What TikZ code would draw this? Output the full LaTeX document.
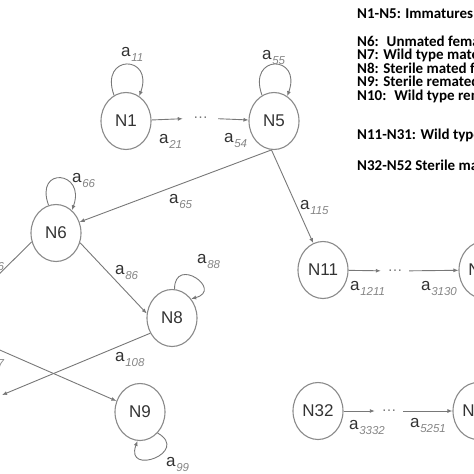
\documentclass[tikz,border=0pt]{standalone}
\usepackage{fontspec}
\setmainfont{Liberation Sans}
\newfontfamily\legendfont{Carlito}
\usetikzlibrary{shapes.geometric,arrows.meta}
\definecolor{linegray}{HTML}{787878}
\definecolor{circgray}{HTML}{8A8A8A}
\definecolor{nodetext}{HTML}{333333}
\definecolor{subgray}{HTML}{858585}
\newcommand{\alab}[1]{a\kern0.6pt\raisebox{-5pt}{\fontsize{11.5}{12}\selectfont\itshape\color{subgray}#1}}
\tikzset{
  state/.style={ellipse, draw=circgray, line width=1.1pt, minimum width=50pt, minimum height=57pt, inner sep=1pt, font=\fontsize{17}{20}\selectfont, text=nodetext},
  dots/.style={inner sep=0pt, text=linegray, font=\fontsize{15}{18}\selectfont},
  edge/.style={draw=linegray, line width=0.9pt, -{Latex[length=5pt,width=4pt]}},
  lbl/.style={anchor=base west, inner sep=0pt, text=nodetext, font=\fontsize{17}{20}\selectfont},
  legend/.style={anchor=base west, inner sep=0pt, font=\legendfont\bfseries\fontsize{15}{16}\selectfont}
}
\begin{document}
\begin{tikzpicture}[x=1pt,y=1pt]
	\useasboundingbox (0,0) rectangle (474,-474);
	\clip (0,0) rectangle (474,-474);
	% states
	\node[state] (N1) at (126,-121) {N1};
	\node[state] (N5) at (274,-121) {N5};
	\node[state] (N6) at (56,-233) {N6};
	\node[state] (N8) at (172,-318) {N8};
	\node[state] (N9) at (140,-412) {N9};
	\node[state] (N11) at (323,-270) {N11};
	\node[state] (N31) at (484,-270) {N31};
	\node[state] (N32) at (318,-411) {N32};
	\node[state] (N52) at (478,-411) {N52};
	% dots in the chains
	\node[dots, minimum width=35pt] (d1) at (200.5,-118) {\dots};
	\node[dots, minimum width=28pt] (d2) at (395,-271) {\dots};
	\node[dots, minimum width=28pt] (d3) at (389,-411) {\dots};
	% free ends off the picture
	\coordinate (n7a) at (-30,-303);
	\coordinate (n7b) at (-30,-337);
	\coordinate (n10) at (2,-395);
	% transitions
	\draw[edge] (N1) -- (d1);
	\draw[edge] (d1) -- (N5);
	\draw[edge] (N11) -- (d2);
	\draw[edge] (d2) -- (N31);
	\draw[edge] (N32) -- (d3);
	\draw[edge] (d3) -- (N52);
	\draw[edge] (N5.265) -- (N6.25);
	\draw[edge] (N5.265) -- (N11.110);
	\draw[edge] (N6.200) -- (n7a);
	\draw[edge] (N6.-22) -- (N8.170);
	\draw[edge] (N8.215) -- (n10);
	\draw[edge] (n7b) -- (N9.155);
	% loops
	\draw[edge] (N1.115) to[out=110, in=70, looseness=4.5] (N1.62);
	\draw[edge] (N5.115) to[out=110, in=70, looseness=4.5] (N5.62);
	\draw[edge] (N6.105) to[out=110, in=70, looseness=4.5] (N6.55);
	\draw[edge] (N8.85) to[out=90, in=15, looseness=4.5] (N8.45);
	\draw[edge] (N9.-50) to[out=-30, in=-110, looseness=4.5] (N9.-95);
	% labels
	\node[lbl] (l11) at (121,-56) {\alab{11}};
	\node[lbl] (l55) at (262,-59) {\alab{55}};
	\node[lbl] (l21) at (159,-143) {\alab{21}};
	\node[lbl] (l54) at (224,-142) {\alab{54}};
	\node[lbl] (l65) at (169,-203) {\alab{65}};
	\node[lbl] (l66) at (72,-182) {\alab{66}};
	\node[lbl] (l115) at (300,-209) {\alab{115}};
	\node[lbl] (l76) at (-19,-265) {\alab{76}};
	\node[lbl] (l86) at (115,-274) {\alab{86}};
	\node[lbl] (l88) at (197,-263) {\alab{88}};
	\node[lbl] (l97) at (-19,-362) {\alab{97}};
	\node[lbl] (l108) at (115,-361) {\alab{108}};
	\node[lbl] (l99) at (166,-466) {\alab{99}};
	\node[lbl] (l1211) at (350,-290) {\alab{1211}};
	\node[lbl] (l3130) at (421,-290) {\alab{3130}};
	\node[lbl] (l3332) at (349,-429) {\alab{3332}};
	\node[lbl] (l5251) at (410,-427) {\alab{5251}};
	% legend
	\foreach \y/\t [count=\i] in {18/{N1-N5: Immatures},
		46/{N6: \ Unmated females}, 59.5/{N7: Wild type mated females},
		73/{N8: Sterile mated females}, 86.5/{N9: Sterile remated females},
		100.5/{N10: \ Wild type remated females},
		139.5/{N11-N31: Wild type males}, 170.5/{N32-N52 Sterile males}}
		\node[legend] (leg\i) at (357,-\y) {\t};
\end{tikzpicture}
\end{document}
